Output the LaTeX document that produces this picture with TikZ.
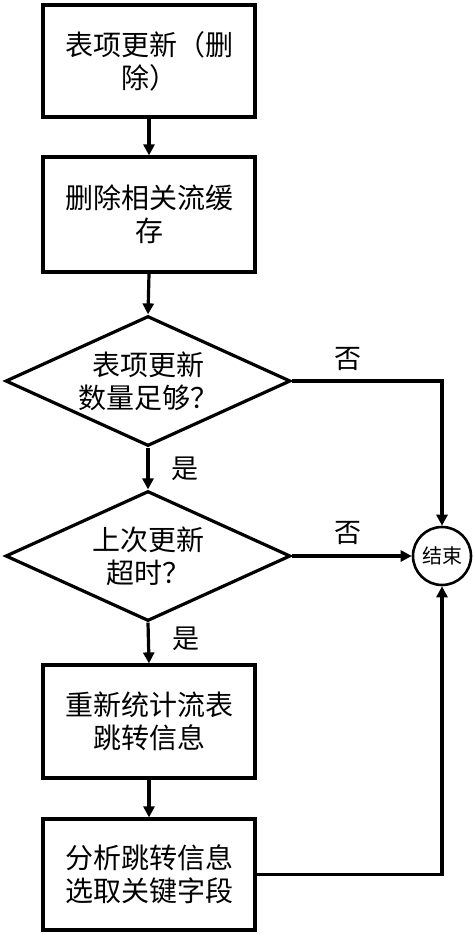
\documentclass[tikz,border=0pt]{standalone}
\usepackage{fontspec}
\newfontfamily\cjk{Noto Sans CJK SC}
\usetikzlibrary{shapes.geometric,arrows.meta}
\begin{document}
\begin{tikzpicture}[x=1pt,y=-1pt,
  every node/.style={font=\cjk\fontsize{28}{33}\selectfont},
  procbox/.style={draw, line width=3.2pt, rectangle, minimum width=212pt, align=center, inner sep=0pt},
  decision/.style={draw, line width=3.2pt, diamond, minimum width=285pt, minimum height=130pt, aspect=2.2, align=center, inner sep=0pt},
  endnode/.style={draw, line width=2.6pt, circle, minimum size=58pt, inner sep=0pt, font=\cjk\fontsize{20}{24}\selectfont},
  conn/.style={line width=3.2pt, -{Triangle[length=11pt,width=11pt]}},
  lbl/.style={font=\cjk\fontsize{27}{30}\selectfont, inner sep=0pt}
]
\useasboundingbox (0,0) rectangle (474,934);
\node[procbox, minimum height=112pt] (b1) at (149,61) {表项更新（删\\除）};
\node[procbox, minimum height=115pt] (b2) at (149,214.5) {删除相关流缓\\存};
\node[decision] (d1) at (148,381) {表项更新\\数量足够？};
\node[decision] (d2) at (148,556) {上次更新\\超时？};
\node[procbox, minimum height=113pt] (b3) at (149,721.5) {重新统计流表\\跳转信息};
\node[procbox, minimum height=111pt] (b4) at (149,874.5) {分析跳转信息\\选取关键字段};
\node[endnode] (e) at (442,556) {结束};

\draw[conn] (b1.south) -- (b2.north);
\draw[conn] (b2.south) -- (d1.north);
\draw[conn] (d1.south) -- node[lbl, pos=0.5, right=22pt] (y1) {是} (d2.north);
\draw[conn] (d2.south) -- node[lbl, pos=0.4, right=22pt] (y2) {是} (b3.north);
\draw[conn] (b3.south) -- (b4.north);
\draw[conn] (d1.east) -| (e.north);
\draw[conn] (d2.east) -- (e.west);
\draw[conn] (b4.east) -| (e.south);
\node[lbl] (n1) at (348,359) {否};
\node[lbl] (n2) at (348,533) {否};
\end{tikzpicture}
\end{document}
